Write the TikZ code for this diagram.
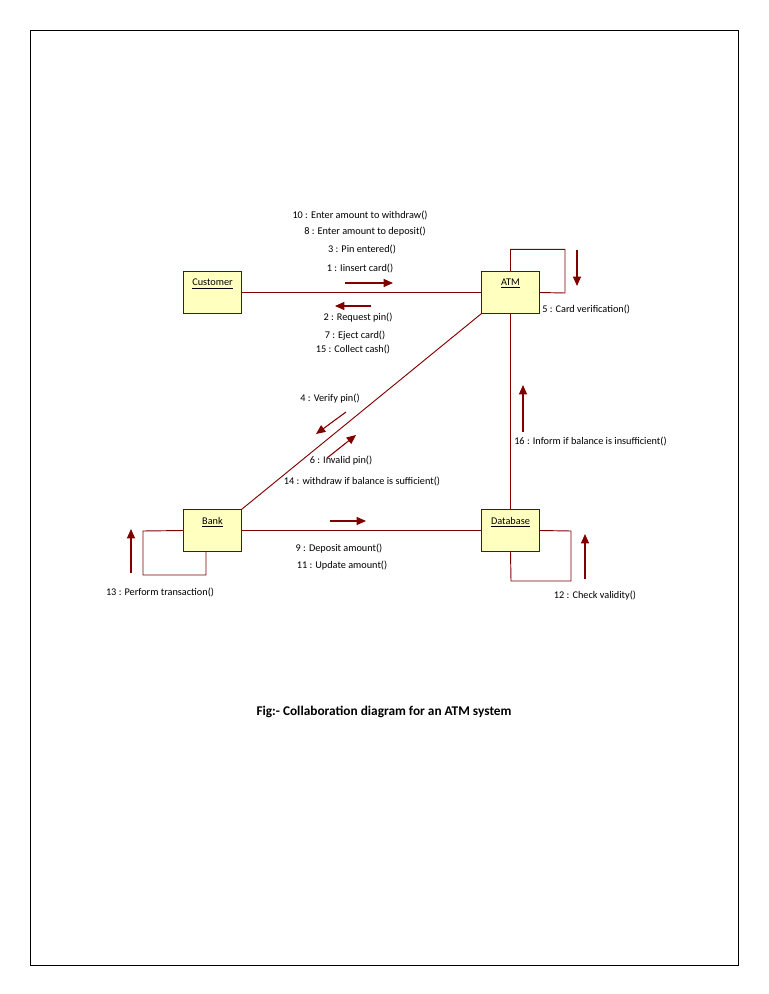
\documentclass[tikz,border=0pt]{standalone}
\usepackage{fontspec}
\setmainfont{Carlito}
\usetikzlibrary{arrows.meta}
\definecolor{ln}{RGB}{128,0,0}
\definecolor{fillc}{RGB}{255,255,192}
\begin{document}
\begin{tikzpicture}[x=0.75pt,y=-0.75pt,
 obj/.style={draw=ln,fill=fillc,line width=0.8pt,minimum width=43pt,minimum height=31pt,inner sep=0pt},
 con/.style={draw=ln,line width=0.7pt},
 msg/.style={draw=ln,line width=0.8pt,-{Triangle[length=7pt,width=6pt]}},
 lab/.style={font=\fontsize{7.7}{9}\selectfont,inner sep=0pt}]
\useasboundingbox (0,0) rectangle (768,994);
\draw[line width=0.6pt] (30,30) rectangle (738,965);
\node[obj] (cu) at (212.5,292.5) {};
\node[obj] (atm) at (510.5,292.5) {};
\node[obj] (bk) at (212.5,530.5) {};
\node[obj] (db) at (510.5,530.5) {};
\node[lab,anchor=north] at (212.5,279) {\underline{Customer}};
\node[lab,anchor=north] at (510.5,279) {\underline{ATM}};
\node[lab,anchor=north] at (212.5,517) {\underline{Bank}};
\node[lab,anchor=north] at (510.5,517) {\underline{Database}};
\draw[con] (cu.east) -- (atm.west);
\draw[con] (bk.east) -- (db.west);
\draw[con] (atm.south) -- (db.north);
\draw[con] (bk.north east) -- (atm.south west);
\draw[con] (atm.north) -- ++(0,-22) -| (565,293) -- (atm.east);
\draw[con] (bk.west) -- (143,531) |- (206,575) -- (206,551);
\draw[con] (db.east) -- (571,531) |- (511,581) -- (db.south);
% message arrows
\coordinate (a1) at (345,283); \coordinate (a1e) at (393,283);
\draw[msg] (a1) -- (a1e);
\coordinate (a2) at (371,306); \coordinate (a2e) at (335,306);
\draw[msg] (a2) -- (a2e);
\coordinate (a5) at (577,250); \coordinate (a5e) at (577,286);
\draw[msg] (a5) -- (a5e);
\coordinate (a4) at (346,412); \coordinate (a4e) at (316,434);
\draw[msg] (a4) -- (a4e);
\coordinate (a6) at (327,458); \coordinate (a6e) at (356,435);
\draw[msg] (a6) -- (a6e);
\coordinate (a16) at (523,432); \coordinate (a16e) at (523,385);
\draw[msg] (a16) -- (a16e);
\coordinate (a9) at (330,521); \coordinate (a9e) at (366,521);
\draw[msg] (a9) -- (a9e);
\coordinate (a13) at (131,573); \coordinate (a13e) at (131,529);
\draw[msg] (a13) -- (a13e);
\coordinate (a12) at (585,579); \coordinate (a12e) at (585,534);
\draw[msg] (a12) -- (a12e);
% labels
\node[lab] at (360,215) {10 : Enter amount to withdraw()};
\node[lab] at (365,232) {8 : Enter amount to deposit()};
\node[lab] at (362,249) {3 : Pin entered()};
\node[lab] at (360,268) {1 : Iinsert card()};
\node[lab] at (358,318) {2 : Request pin()};
\node[lab] at (355,336) {7 : Eject card()};
\node[lab] at (353,349) {15 : Collect cash()};
\node[lab,anchor=west] at (542,309) {5 : Card verification()};
\node[lab] at (330,399) {4 : Verify pin()};
\node[lab] at (341,461) {6 : Invalid pin()};
\node[lab] at (362,481) {14 : withdraw if balance is sufficient()};
\node[lab,anchor=west] at (514,441) {16 : Inform if balance is insufficient()};
\node[lab] at (339,549) {9 : Deposit amount()};
\node[lab] at (342,566) {11 : Update amount()};
\node[lab] at (160,592) {13 : Perform transaction()};
\node[lab] at (595,596) {12 : Check validity()};
\node[font=\bfseries\fontsize{10}{11}\selectfont] at (384,712) {Fig:-  Collaboration diagram for an ATM system};
\end{tikzpicture}
\end{document}
